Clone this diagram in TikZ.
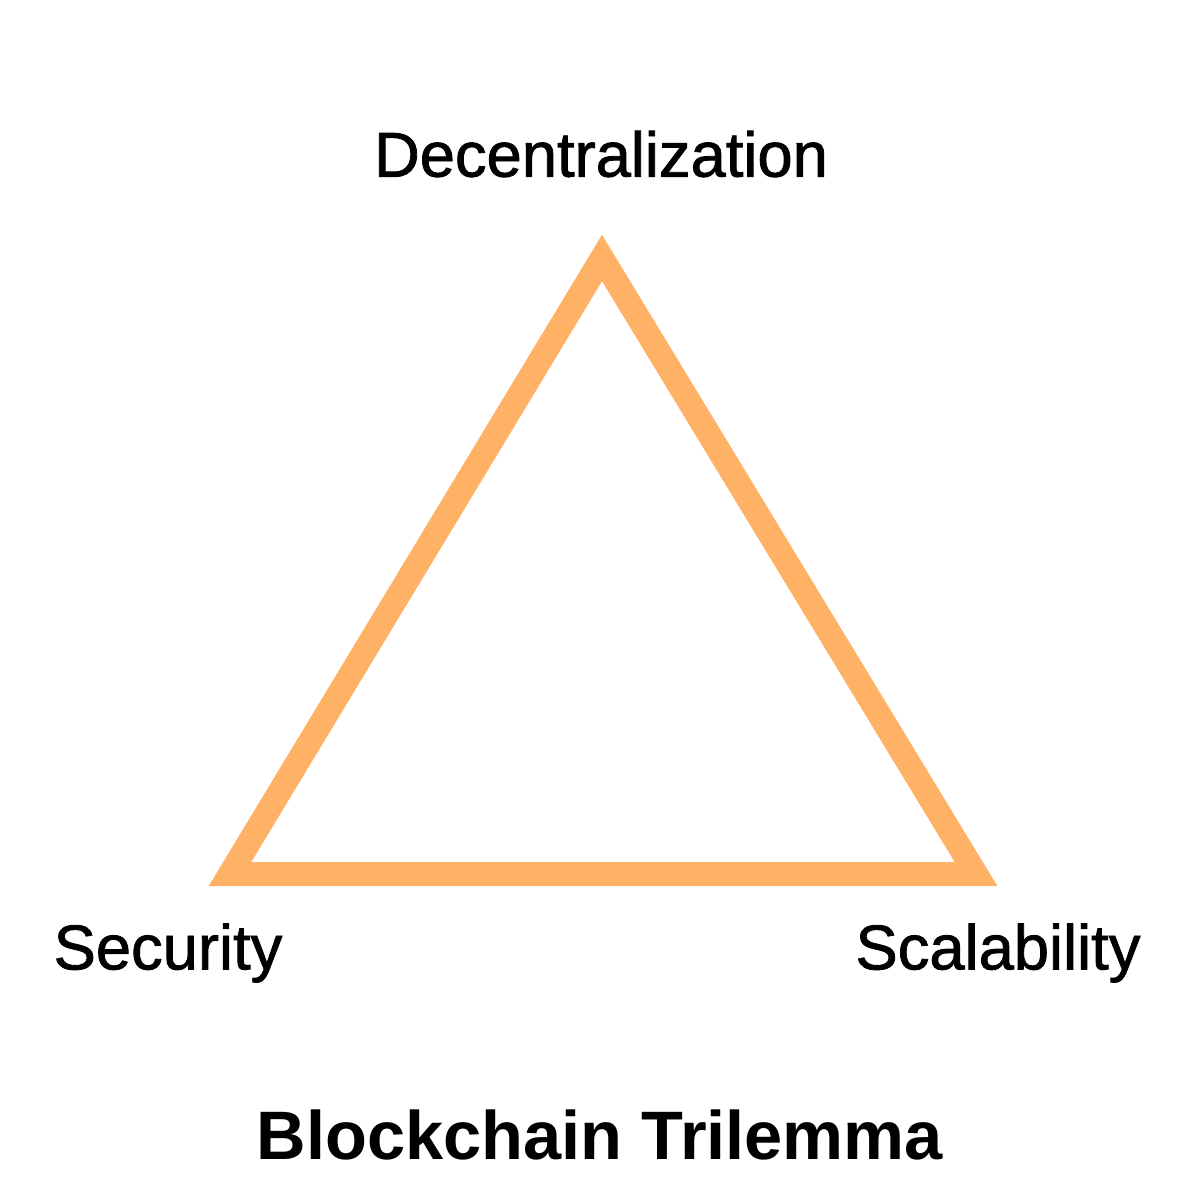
\documentclass[tikz,border=0pt]{standalone}
\usepackage{fontspec}
\setmainfont{Liberation Sans}
\newfontfamily\labfont[FakeBold=1.3]{Liberation Sans}
\definecolor{tri}{HTML}{FFB266}
\begin{document}
\begin{tikzpicture}[x=0.01cm,y=-0.01cm,
  lab/.style={font=\labfont\fontsize{18}{20}\selectfont, inner sep=0pt},
  ttl/.style={font=\fontsize{19.5}{22}\selectfont\bfseries, inner sep=0pt}]
\useasboundingbox (0,0) rectangle (1200,1200);
\coordinate (top) at (602,258);
\coordinate (bl) at (230,874);
\coordinate (br) at (976,874);
\draw[tri, line width=0.24cm, line join=miter] (top) -- (br) -- (bl) -- cycle;
\node[lab] (dec) at (601,154) {Decentralization};
\node[lab] (sec) at (168,953) {Security};
\node[lab] (sca) at (998,953) {Scalability};
\node[ttl] (title) at (600,1135) {Blockchain Trilemma};
\end{tikzpicture}
\end{document}
